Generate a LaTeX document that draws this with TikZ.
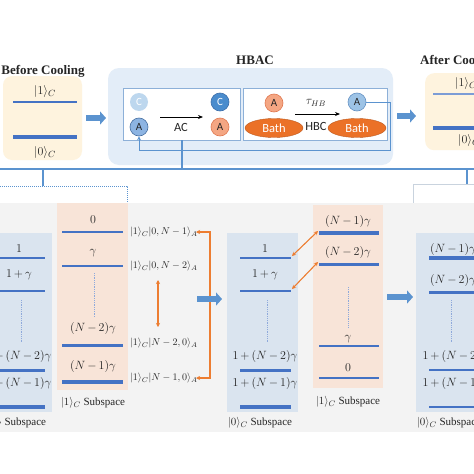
\documentclass[tikz,border=0pt]{standalone}
\usepackage{fontspec}
\setmainfont{Liberation Serif}
\newfontfamily\calib{Carlito}
\usetikzlibrary{arrows.meta,shapes.geometric}
\newcommand\tmath{\medmuskip=3mu\relax}
\definecolor{cream}{HTML}{FEF3DE}
\definecolor{hbacbg}{HTML}{E3EDF8}
\definecolor{boxb}{HTML}{8DB0D8}
\definecolor{conn}{HTML}{5B93CF}
\definecolor{lvl}{HTML}{4472C4}
\definecolor{pgray}{HTML}{F3F3F3}
\definecolor{pblue}{HTML}{DAE4EF}
\definecolor{porange}{HTML}{F8E4D8}
\definecolor{orng}{HTML}{ED7D31}
\definecolor{bathc}{HTML}{EB7127}
\definecolor{txt}{HTML}{262626}
\definecolor{dotc}{HTML}{8EA9DB}
\definecolor{graycon}{HTML}{C9D3DE}
\definecolor{cfade}{RGB}{189,215,238}
\definecolor{ablue}{RGB}{141,180,226}
\definecolor{abluee}{RGB}{70,110,160}
\definecolor{cdark}{RGB}{74,140,205}
\definecolor{cdarke}{RGB}{60,110,170}
\definecolor{aor}{RGB}{244,166,131}
\definecolor{aore}{RGB}{225,120,80}
\definecolor{alight}{RGB}{157,195,230}
\definecolor{alighte}{RGB}{100,145,195}
\tikzset{
  ttl/.style={font=\bfseries\fontsize{13}{15}\selectfont, text=txt, inner sep=0},
  lvtxt/.style={font={\fontsize{11.5}{13}\selectfont\tmath}, text=txt, inner sep=0},
  kettxt/.style={font=\fontsize{10}{12}\selectfont, text=txt, inner sep=0, anchor=west},
  subtxt/.style={font=\fontsize{11}{12}\selectfont, text=txt, inner sep=0},
  bigket/.style={font=\fontsize{12.5}{14}\selectfont, text=txt, inner sep=0},
  lv/.style={draw=lvl, line width=#1},
  dots/.style={draw=dotc, line width=0.9pt, dash pattern=on 0.9pt off 0.9pt},
  cn/.style={draw=conn, line width=1.3pt},
  bigarrow/.style={draw=conn, line width=6.5pt, -{Triangle[length=6pt,width=13pt]}},
  circ/.style={circle, minimum size=18pt, inner sep=0, font=\calib\fontsize{11}{11}\selectfont, line width=0.6pt},
  bath/.style={ellipse, minimum width=58pt, minimum height=19pt, inner sep=0, fill=bathc, draw=bathc!80!black, line width=0.4pt, text=white, font=\calib\fontsize{12.5}{13}\selectfont},
  orarr/.style={draw=orng, line width=1.1pt, {Stealth[length=4pt,width=4pt]}-{Stealth[length=4pt,width=4pt]}},
  pnl/.style={inner sep=0, minimum width=71pt}
}
\begin{document}
\begin{tikzpicture}[x=1pt,y=-1pt]
\useasboundingbox (0,0) rectangle (474,474);
\clip (0,0) rectangle (474,474);
\fill[white] (0,0) rectangle (474,474);

% ---------- Before cooling ----------
\node[ttl] (tbefore) at (43,71) {Before Cooling};
\node[fill=cream, rounded corners=9pt, minimum width=79pt, minimum height=84pt, inner sep=0] (before) at (42.5,118) {};
\draw[lv=1.8pt] (13,102) -- (77,102);
\draw[lv=3.2pt] (13,137) -- (77,137);
\node[bigket] (b1) at (45,91) {$|1\rangle_C$};
\node[bigket] (b0) at (45,152) {$|0\rangle_C$};
\coordinate (ba1) at (86,118); \coordinate (ba2) at (106,118);
\draw[bigarrow] (ba1) -- (ba2);

% ---------- HBAC ----------
\node[ttl] (thbac) at (255,60) {HBAC};
\node[fill=hbacbg, rounded corners=11pt, minimum width=285pt, minimum height=97pt, inner sep=0] (hbac) at (250.5,116.5) {};
\node[draw=boxb, fill=white, line width=0.7pt, minimum width=117pt, minimum height=52pt, inner sep=0] (box1) at (181.5,114) {};
\node[draw=boxb, fill=white, line width=0.7pt, minimum width=144pt, minimum height=52pt, inner sep=0] (box2) at (315,114) {};
\node[circ, fill=cfade, text=white] (c1) at (139,102) {C};
\node[circ, fill=ablue, draw=abluee, text=txt] (a1) at (139,127) {A};
\node[circ, fill=cdark, draw=cdarke, text=white] (c2) at (220,102) {C};
\node[circ, fill=aor, draw=aore, text=txt] (a2) at (220,127) {A};
\coordinate (ac1) at (160,117); \coordinate (ac2) at (203,117);
\draw[line width=0.9pt, -{Stealth[length=5pt,width=4pt]}] (ac1) -- (ac2);
\node[font=\calib\fontsize{12.5}{13}\selectfont, text=txt, inner sep=0] (lac) at (181,127) {AC};

\node[circ, fill=aor, draw=aore, text=txt] (a3) at (274,103) {A};
\node[bath] (bath1) at (274,128) {Bath};
\node[circ, fill=alight, draw=alighte, text=txt] (a4) at (357,102) {A};
\node[bath] (bath2) at (357,128) {Bath};
\coordinate (hb1) at (295,114); \coordinate (hb2) at (340,114);
\draw[line width=0.9pt, -{Stealth[length=5pt,width=4pt]}] (hb1) -- (hb2);
\node[font=\fontsize{12}{13}\selectfont, text=txt, inner sep=0] (ltau) at (316,103) {$\tau_{HB}$};
\node[font=\calib\fontsize{12.5}{13}\selectfont, text=txt, inner sep=0] (lhbc) at (316,126) {HBC};

\coordinate (fb) at (390,150);
\draw[draw=conn, line width=1pt, -{Stealth[length=4pt,width=4pt]}] (a4.east) -| (fb) -| (a1.south);

\coordinate (aa1) at (397,116); \coordinate (aa2) at (416,116);
\draw[bigarrow] (aa1) -- (aa2);

% ---------- After cooling ----------
\node[ttl, anchor=west] (tafter) at (420,61) {After Cooling};
\node[fill=cream, rounded corners=9pt, minimum width=80pt, minimum height=77pt, inner sep=0, anchor=north west] (after) at (425,73) {};
\draw[lv=1.5pt, draw=lvl!70] (433,94) -- (480,94);
\draw[lv=3.8pt] (433,128) -- (480,128);
\node[bigket] (a1k) at (466,83) {$|1\rangle_C$};
\node[bigket] (a0k) at (469,140) {$|0\rangle_C$};

% ---------- connectors ----------
\coordinate (mlL) at (0,169); \coordinate (mlR) at (474,169);
\draw[cn] (mlL) -- (mlR);
\draw[cn] (box1.south -| 182,0) -- (182,169);
\coordinate (lv1) at (43,169); \coordinate (lv2) at (43,186);
\draw[cn] (lv1) -- (lv2);
\coordinate (dl0) at (0,186); \coordinate (dl1) at (127,186); \coordinate (dl2) at (127,204);
\draw[draw=conn, line width=1pt, dash pattern=on 1pt off 1pt] (dl0) -- (dl1) -- (dl2);
\coordinate (rv1) at (467,169); \coordinate (rv2) at (467,184);
\draw[cn] (rv1) -- (rv2);
\coordinate (rg0) at (474,184); \coordinate (rg1) at (413,184); \coordinate (rg2) at (413,206);
\draw[draw=graycon, line width=1pt] (rg0) -- (rg1) -- (rg2);

% ---------- lower panel ----------
\fill[pgray] (0,203) rectangle (474,432);
\draw[draw=conn, line width=1pt, dash pattern=on 1pt off 1pt] (127,203) -- (127,205);

% panel 1 (|0>_C, clipped)
\node[pnl, fill=pblue, minimum height=179pt] (p1) at (16.5,322.5) {};
\node[lvtxt] (p1t1) at (19,249) {$1$};
\node[lvtxt] (p1t2) at (19,275) {$1+\gamma$};
\node[lvtxt] (p1t3) at (19,356) {$1+(N-2)\gamma$};
\node[lvtxt] (p1t4) at (19,383) {$1+(N-1)\gamma$};
\draw[lv=1.5pt] (-6,258) -- (45,258);
\draw[lv=2pt] (-6,291) -- (45,291);
\draw[lv=3pt] (-6,370) -- (45,370);
\draw[lv=3.8pt] (-6,407) -- (45,407);
\draw[dots] (21,300) -- (21,343);
\node[subtxt] (p1l) at (14,423) {$|0\rangle_C$ Subspace};

% panel 2 (|1>_C)
\node[pnl, fill=porange, minimum height=187pt] (p2) at (92.5,296.5) {};
\node[lvtxt] (p2t1) at (93,220) {$0$};
\node[lvtxt] (p2t2) at (93,253) {$\gamma$};
\node[lvtxt] (p2t3) at (93,328) {$(N-2)\gamma$};
\node[lvtxt] (p2t4) at (93,366) {$(N-1)\gamma$};
\draw[lv=1.5pt] (62,232) -- (123,232);
\draw[lv=2pt] (62,266) -- (123,266);
\draw[lv=3pt] (62,345) -- (123,345);
\draw[lv=3.8pt] (62,382) -- (123,382);
\draw[dots] (94,273) -- (94,317);
\node[subtxt] (p2l) at (93,403) {$|1\rangle_C$ Subspace};
\node[kettxt] (k1) at (130,232) {$|1\rangle_C|0,N-1\rangle_A$};
\node[kettxt] (k2) at (130,266) {$|1\rangle_C|0,N-2\rangle_A$};
\node[kettxt] (k3) at (130,343) {$|1\rangle_C|N-2,0\rangle_A$};
\node[kettxt] (k4) at (130,378) {$|1\rangle_C|N-1,0\rangle_A$};
\coordinate (br1) at (196,232); \coordinate (br4) at (196,378);
\draw[orarr] (br1) -- (210,232) -- (210,378) -- (br4);
\coordinate (vd1) at (158,280); \coordinate (vd2) at (158,327);
\draw[orarr] (vd1) -- (vd2);

\coordinate (m1) at (197,299); \coordinate (m2) at (222,299);
\draw[bigarrow] (m1) -- (m2);

% panel 3 (|0>_C)
\node[pnl, fill=pblue, minimum height=179pt] (p3) at (262.5,322.5) {};
\node[lvtxt] (p3t1) at (265,249) {$1$};
\node[lvtxt] (p3t2) at (265,275) {$1+\gamma$};
\node[lvtxt] (p3t3) at (265,356) {$1+(N-2)\gamma$};
\node[lvtxt] (p3t4) at (265,383) {$1+(N-1)\gamma$};
\draw[lv=1.5pt] (240,258) -- (291,258);
\draw[lv=2pt] (240,291) -- (291,291);
\draw[lv=3pt] (240,370) -- (291,370);
\draw[lv=3.8pt] (240,407) -- (291,407);
\draw[dots] (267,300) -- (267,343);
\node[subtxt] (p3l) at (260,423) {$|0\rangle_C$ Subspace};

% panel 4 (|1>_C)
\node[pnl, fill=porange, minimum width=70pt, minimum height=183pt] (p4) at (348,296.5) {};
\node[lvtxt] (p4t1) at (348,221) {$(N-1)\gamma$};
\node[lvtxt] (p4t2) at (348,252) {$(N-2)\gamma$};
\node[lvtxt] (p4t3) at (348,339) {$\gamma$};
\node[lvtxt] (p4t4) at (348,368) {$0$};
\draw[lv=3.2pt] (319,233) -- (379,233);
\draw[lv=3pt] (319,264) -- (379,264);
\draw[lv=1.8pt] (319,346) -- (379,346);
\draw[lv=1.5pt] (319,378) -- (379,378);
\draw[dots] (348,287) -- (348,327);
\node[subtxt] (p4l) at (348,402) {$|1\rangle_C$ Subspace};
\coordinate (d1a) at (292,256); \coordinate (d1b) at (318,231);
\coordinate (d2a) at (292,289); \coordinate (d2b) at (318,262);
\draw[orarr] (d1a) -- (d1b);
\draw[orarr] (d2a) -- (d2b);

\coordinate (m3) at (387,297); \coordinate (m4) at (413,297);
\draw[bigarrow] (m3) -- (m4);

% panel 5 (|0>_C after, clipped)
\node[pnl, fill=pblue, minimum height=179pt] (p5) at (451.5,322.5) {};
\node[lvtxt] (p5t1) at (453,249) {$(N-1)\gamma$};
\node[lvtxt] (p5t2) at (453,280) {$(N-2)\gamma$};
\node[lvtxt] (p5t3) at (455,356) {$1+(N-2)\gamma$};
\node[lvtxt] (p5t4) at (455,383) {$1+(N-1)\gamma$};
\draw[lv=3.5pt] (429,258) -- (480,258);
\draw[lv=3pt] (429,292) -- (480,292);
\draw[lv=2.5pt] (429,370) -- (480,370);
\draw[lv=1.6pt] (429,407) -- (480,407);
\draw[dots] (451,300) -- (451,343);
\node[subtxt] (p5l) at (449,423) {$|0\rangle_C$ Subspace};
\end{tikzpicture}
\end{document}
